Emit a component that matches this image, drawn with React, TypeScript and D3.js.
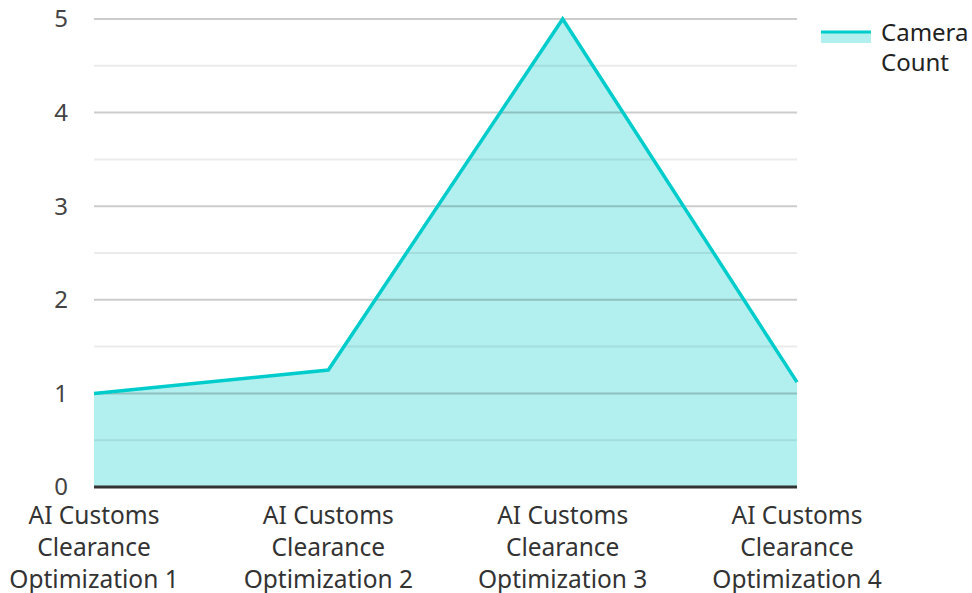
import React, { useEffect, useRef } from 'react'
import * as d3 from 'd3'

const categories = [
  'AI Customs Clearance Optimization 1',
  'AI Customs Clearance Optimization 2',
  'AI Customs Clearance Optimization 3',
  'AI Customs Clearance Optimization 4',
]
const labelLines = [
  ['AI Customs', 'Clearance', 'Optimization 1'],
  ['AI Customs', 'Clearance', 'Optimization 2'],
  ['AI Customs', 'Clearance', 'Optimization 3'],
  ['AI Customs', 'Clearance', 'Optimization 4'],
]
const cameraCount = [1, 1.25, 5, 1.12]
const yTicks = [0, 1, 2, 3, 4, 5]
const yMinorTicks = [0.5, 1.5, 2.5, 3.5, 4.5]

function App() {
  const svgRef = useRef(null)

  useEffect(() => {
    const svg = d3.select(svgRef.current)
    svg.selectAll('*').remove()

    const width = 972
    const height = 593
    const margin = { left: 94, right: 175, top: 19, bottom: 106 }
    const font = "'Noto Sans', sans-serif"

    const x = d3
      .scalePoint()
      .domain(categories)
      .range([margin.left, width - margin.right])
    const y = d3
      .scaleLinear()
      .domain([0, 5])
      .range([height - margin.bottom, margin.top])

    const data = categories.map((c, i) => ({ c, v: cameraCount[i] }))

    // area fill
    const area = d3
      .area<any>()
      .x((d) => x(d.c)!)
      .y0(y(0))
      .y1((d) => y(d.v))
    svg
      .append('path')
      .datum(data)
      .attr('d', area)
      .attr('fill', 'rgba(0,204,204,0.3)')

    // grid on top of the fill
    svg
      .append('g')
      .selectAll('line')
      .data(yMinorTicks)
      .join('line')
      .attr('x1', margin.left)
      .attr('x2', width - margin.right)
      .attr('y1', (d) => y(d))
      .attr('y2', (d) => y(d))
      .attr('stroke', 'rgba(0,0,0,0.08)')
      .attr('stroke-width', 2)
    svg
      .append('g')
      .selectAll('line')
      .data(yTicks.slice(1))
      .join('line')
      .attr('x1', margin.left)
      .attr('x2', width - margin.right)
      .attr('y1', (d) => y(d))
      .attr('y2', (d) => y(d))
      .attr('stroke', 'rgba(0,0,0,0.2)')
      .attr('stroke-width', 2)

    // line
    const line = d3
      .line<any>()
      .x((d) => x(d.c)!)
      .y((d) => y(d.v))
    svg
      .append('path')
      .datum(data)
      .attr('d', line)
      .attr('fill', 'none')
      .attr('stroke', '#00cccc')
      .attr('stroke-width', 3.5)

    // baseline
    svg
      .append('line')
      .attr('x1', margin.left)
      .attr('x2', width - margin.right)
      .attr('y1', y(0))
      .attr('y2', y(0))
      .attr('stroke', '#333')
      .attr('stroke-width', 3)

    // y tick labels
    svg
      .append('g')
      .selectAll('text')
      .data(yTicks)
      .join('text')
      .attr('x', 68)
      .attr('y', (d) => y(d))
      .attr('dy', '0.35em')
      .attr('text-anchor', 'end')
      .attr('font-family', font)
      .attr('font-size', 24)
      .attr('fill', '#444')
      .text((d) => d)

    // x labels
    const xl = svg
      .append('g')
      .selectAll('text')
      .data(categories)
      .join('text')
      .attr('text-anchor', 'middle')
      .attr('font-family', font)
      .attr('font-size', 24.5)
      .attr('fill', '#333')
    xl.selectAll('tspan')
      .data((d, i) => labelLines[i].map((t) => ({ t, c: d })))
      .join('tspan')
      .attr('x', (d) => x(d.c)!)
      .attr('y', (d, j) => 524 + j * 32)
      .text((d) => d.t)

    // legend
    const lg = svg.append('g')
    lg.append('rect')
      .attr('x', 821)
      .attr('y', 31)
      .attr('width', 50)
      .attr('height', 12)
      .attr('fill', 'rgba(0,204,204,0.3)')
    lg.append('line')
      .attr('x1', 821)
      .attr('x2', 871)
      .attr('y1', 32)
      .attr('y2', 32)
      .attr('stroke', '#00cccc')
      .attr('stroke-width', 3)
    lg.append('text')
      .attr('font-family', font)
      .attr('font-size', 24)
      .attr('fill', '#222')
      .selectAll('tspan')
      .data(['Camera', 'Count'])
      .join('tspan')
      .attr('x', 881)
      .attr('y', (d, i) => 41 + i * 30)
      .text((d) => d)
  }, [])

  return (
    <div style={{ position: 'absolute', left: 0, top: 0 }}>
      <svg ref={svgRef} width={972} height={593} style={{ display: 'block' }} />
    </div>
  )
}

export default App
